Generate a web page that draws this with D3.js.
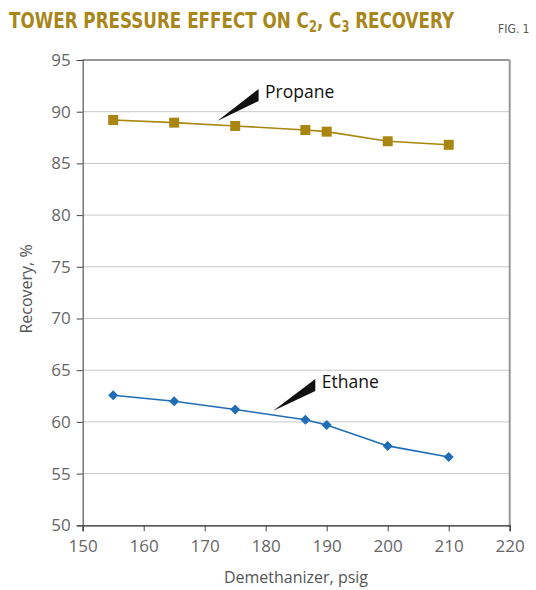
<!DOCTYPE html>
<html>
<head>
<meta charset="utf-8">
<script src="https://cdn.jsdelivr.net/npm/d3@7"></script>
<style>
  body { margin: 0; background: #fff; }
  svg text { font-family: "Open Sans", "Noto Sans", sans-serif; }
</style>
</head>
<body>
<svg id="chart" width="536" height="590"></svg>
<script>
// values
const pressure = [155, 165, 175, 186.5, 190, 200, 210];
const propane = [89.2, 88.94, 88.62, 88.23, 88.07, 87.14, 86.8];
const ethane = [62.58, 62.0, 61.2, 60.2, 59.7, 57.68, 56.6];
const xTicks = [150, 160, 170, 180, 190, 200, 210, 220];
const yTicks = [50, 55, 60, 65, 70, 75, 80, 85, 90, 95];

const gold = "#a8860f";
const blue = "#1f6db6";

const svg = d3.select("#chart");
const m = { left: 82.7, right: 509.7, top: 60, bottom: 525.3 };

const x = d3.scaleLinear().domain([150, 220]).range([m.left, m.right]);
const y = d3.scaleLinear().domain([50, 95]).range([m.bottom, m.top]);

// title, squeezed to the condensed width of the original
const titleG = svg.append("g");
const title = titleG.append("text")
    .attr("x", 0).attr("y", 0)
    .attr("fill", "#a8861a")
    .style("font-family", "'DejaVu Sans Condensed', 'Liberation Sans Narrow', sans-serif")
    .style("font-weight", "bold")
    .style("font-size", "22px");
title.append("tspan").text("TOWER PRESSURE EFFECT ON C");
title.append("tspan").attr("dy", 4).style("font-size", "15px").text("2");
title.append("tspan").attr("dy", -4).text(", C");
title.append("tspan").attr("dy", 4).style("font-size", "15px").text("3");
title.append("tspan").attr("dy", -4).text(" RECOVERY");
const tw = title.node().getBBox().width;
titleG.attr("transform", `translate(9,28) scale(${446 / tw},1)`);

svg.append("text")
    .attr("x", 498).attr("y", 33)
    .attr("fill", "#555")
    .style("font-family", "'Liberation Sans Narrow', 'DejaVu Sans Condensed', sans-serif")
    .style("font-size", "12px")
    .text("FIG. 1");

// gridlines
svg.append("g")
  .selectAll("line")
  .data(yTicks.filter(d => d > 50 && d < 95))
  .join("line")
    .attr("x1", m.left).attr("x2", m.right)
    .attr("y1", d => y(d)).attr("y2", d => y(d))
    .attr("stroke", "#c8c8c8").attr("stroke-width", 1);

// frame top and right
svg.append("line")
    .attr("x1", m.left).attr("x2", m.right)
    .attr("y1", m.top).attr("y2", m.top)
    .attr("stroke", "#333").attr("stroke-width", 1.2);
svg.append("line")
    .attr("x1", m.right).attr("x2", m.right)
    .attr("y1", m.top).attr("y2", m.bottom)
    .attr("stroke", "#999").attr("stroke-width", 2);

// axes
const xAxis = svg.append("g")
    .attr("transform", `translate(0,${m.bottom})`)
    .call(d3.axisBottom(x).tickValues(xTicks).tickSize(6).tickPadding(9));
xAxis.select(".domain").attr("stroke", "#222").attr("stroke-width", 1.3);
xAxis.selectAll(".tick line").attr("stroke", "#444");
xAxis.selectAll("text").attr("fill", "#666").style("font-size", "17px");

const yAxis = svg.append("g")
    .attr("transform", `translate(${m.left},0)`)
    .call(d3.axisLeft(y).tickValues(yTicks).tickSize(6).tickPadding(6));
yAxis.select(".domain").attr("stroke", "#555").attr("stroke-width", 1.2);
yAxis.selectAll(".tick line").attr("stroke", "#444");
yAxis.selectAll("text").attr("fill", "#666").style("font-size", "17px");

// axis titles
svg.append("text")
    .attr("x", 296).attr("y", 583)
    .attr("text-anchor", "middle")
    .attr("fill", "#555")
    .style("font-size", "16px")
    .text("Demethanizer, psig");

svg.append("text")
    .attr("transform", "translate(32,289) rotate(-90)")
    .attr("text-anchor", "middle")
    .attr("fill", "#555")
    .style("font-size", "16px")
    .text("Recovery, %");

// series
const line = d3.line().x((d, i) => x(pressure[i])).y(d => y(d));

svg.append("path").datum(propane)
    .attr("d", line).attr("fill", "none")
    .attr("stroke", gold).attr("stroke-width", 1.6);
svg.append("g").selectAll("path")
  .data(propane)
  .join("path")
    .attr("transform", (d, i) => `translate(${x(pressure[i])},${y(d)})`)
    .attr("d", d3.symbol(d3.symbolSquare, 100))
    .attr("fill", gold);

svg.append("path").datum(ethane)
    .attr("d", line).attr("fill", "none")
    .attr("stroke", blue).attr("stroke-width", 1.6);
svg.append("g").selectAll("path")
  .data(ethane)
  .join("path")
    .attr("transform", (d, i) => `translate(${x(pressure[i])},${y(d)}) rotate(45)`)
    .attr("d", d3.symbol(d3.symbolSquare, 50))
    .attr("fill", blue);

// callout labels: wedge points from label to the line
function callout(label, px, py, tx, ty) {
  const tip = [x(px), y(py)];
  const bx = x(tx) - 6.5;
  svg.append("path")
      .attr("d", `M${tip[0]},${tip[1]} L${bx},${y(ty) - 9} L${bx},${y(ty) + 3} Z`)
      .attr("fill", "#111");
  svg.append("text")
      .attr("x", x(tx)).attr("y", y(ty))
      .attr("fill", "#111")
      .style("font-size", "17.5px")
      .text(label);
}
callout("Propane", 172.07, 89.1, 179.9, 91.32);
callout("Ethane", 181.25, 61.08, 189.2, 63.28);
</script>
</body>
</html>
